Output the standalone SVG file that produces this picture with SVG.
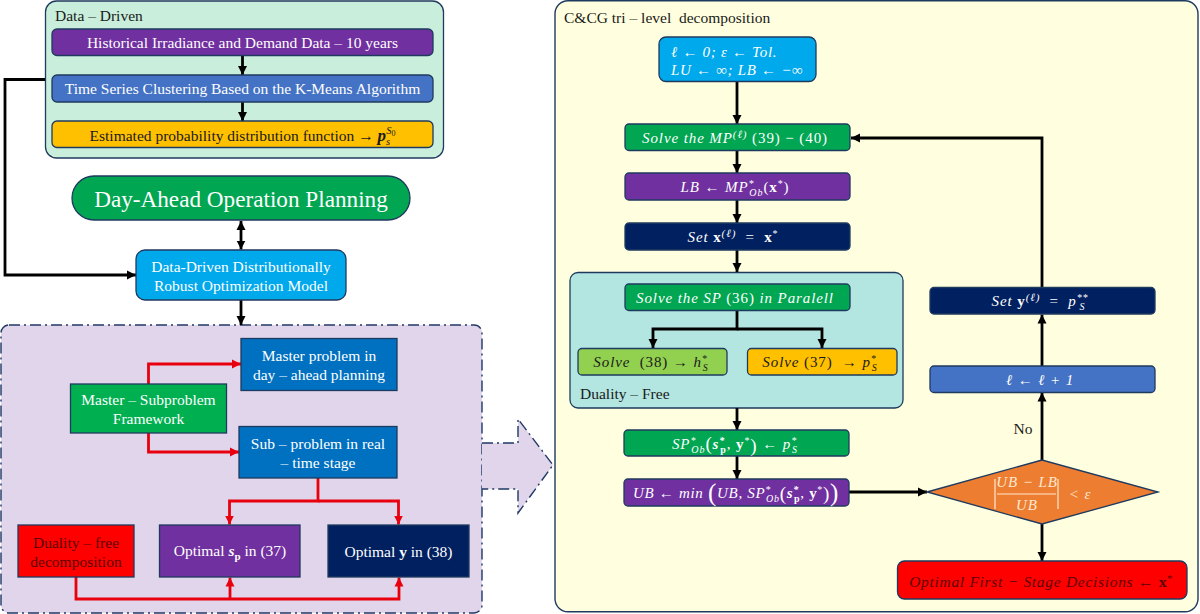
<svg xmlns="http://www.w3.org/2000/svg" width="1200" height="614" viewBox="0 0 1200 614">
<style>
text{font-family:"Liberation Serif","Times New Roman",serif;text-anchor:middle;fill:#fff;font-size:15.5px;white-space:pre}
.l{text-anchor:start;fill:#1a1a1a}
.dk{fill:#1a1a1a}
.drk{fill:#5a0000}
.m{font-style:italic;letter-spacing:.9px;font-size:15px}
.n{font-style:normal}
.b{font-style:normal;font-weight:bold}
.i{font-style:italic}
.bs{font-style:italic;font-weight:bold}
.box{stroke:#1f3a5f;stroke-width:1.3}
.c{fill:none;stroke:#000;stroke-width:2.8}
.r{fill:none;stroke:#e8000f;stroke-width:2.8}
</style>
<defs>
<marker id="ak" markerUnits="userSpaceOnUse" markerWidth="10" markerHeight="10" refX="9" refY="5" orient="auto-start-reverse"><path d="M0 .5L9 5L0 9.500z" fill="#000"/></marker>
<marker id="ar" markerUnits="userSpaceOnUse" markerWidth="10" markerHeight="10" refX="9" refY="5" orient="auto-start-reverse"><path d="M0 .5L9 5L0 9.500z" fill="#e8000f"/></marker>
</defs>
<rect width="1200" height="614" fill="#fff"/>

<g id="panel-data"><rect class="box" x="45.500" y="1" width="398" height="157" rx="11" fill="#c9eedb"/><text class="l" x="55" y="20.500">Data – Driven</text></g>
<g id="panel-framework"><rect x="1" y="325" width="481" height="288" rx="8" fill="#e0d5ea" stroke="#1f3864" stroke-width="1.4" stroke-dasharray="11 4 2 4"/></g>
<g id="panel-arrow"><path d="M482 443H518V419L553 465L518 513V489H482" fill="#e0d5ea"/><path d="M482 443H518V419L553 465L518 513V489H482" fill="none" stroke="#1f3864" stroke-width="1.4" stroke-dasharray="11 4 2 4"/></g>
<g id="panel-ccg"><rect x="555" y="0.700" width="643" height="611" rx="13" fill="#ffffdf" stroke="#1f3a5f" stroke-width="1.4"/><text class="l" x="564" y="23">C&amp;CG tri – level  decomposition</text></g>
<g id="panel-duality"><rect class="box" x="570" y="272.500" width="333" height="135.500" rx="8" fill="#b3e5e1"/><text class="l" x="580" y="399">Duality – Free</text></g>

<g id="connectors">
<path class="c" marker-end="url(#ak)" d="M242.500 56V75"/>
<path class="c" marker-end="url(#ak)" d="M242.500 102V121"/>
<path class="c" marker-start="url(#ak)" marker-end="url(#ak)" d="M241 221V249.500"/>
<path class="c" marker-end="url(#ak)" d="M45 79.500H5V275H136"/>
<path class="c" marker-end="url(#ak)" d="M241 300V325"/>
<path class="r" marker-end="url(#ar)" d="M148.500 384V364H241"/>
<path class="r" marker-end="url(#ar)" d="M148.500 433V452H239"/>
<path class="r" marker-end="url(#ar)" d="M318 478V501H229.500V524.500"/>
<path class="r" marker-end="url(#ar)" d="M318 501H398.500V524.500"/>
<path class="r" marker-end="url(#ar)" d="M76 577V599H399V577.500"/>
<path class="r" marker-end="url(#ar)" d="M230 599V577.500"/>
<path class="c" marker-end="url(#ak)" d="M737 81.500V124"/>
<path class="c" marker-end="url(#ak)" d="M737 151V173"/>
<path class="c" marker-end="url(#ak)" d="M737 200V223"/>
<path class="c" marker-end="url(#ak)" d="M737 250V272"/>
<path class="c" marker-end="url(#ak)" d="M737 310.500V329H653V348"/>
<path class="c" marker-end="url(#ak)" d="M737 329H822V348"/>
<path class="c" marker-end="url(#ak)" d="M737 408V430"/>
<path class="c" marker-end="url(#ak)" d="M737 456V479"/>
<path class="c" marker-end="url(#ak)" d="M849 492H927"/>
<path class="c" marker-end="url(#ak)" d="M1042 524V561"/>
<path class="c" marker-end="url(#ak)" d="M1042 460V392.500"/>
<path class="c" marker-end="url(#ak)" d="M1042 366V314.500"/>
<path class="c" marker-end="url(#ak)" d="M1042 287V138H851"/>
</g>

<g id="n-historical"><rect class="box" x="52" y="29" width="381" height="26.500" rx="5" fill="#7030a0"/><text x="242.500" y="48">Historical Irradiance and Demand Data – 10 years</text></g>
<g id="n-clustering"><rect class="box" x="52" y="75" width="381" height="27" rx="5" fill="#4472c4"/><text x="242.500" y="94">Time Series Clustering Based on the K-Means Algorithm</text></g>
<g id="n-pdf"><rect class="box" x="52" y="121" width="381" height="26.500" rx="5" fill="#ffc000"/><text class="dk" x="242.500" y="141">Estimated probability distribution function → <tspan class="bs" font-size="17">p</tspan><tspan class="i" font-size="10.500" dy="4">s</tspan><tspan class="i" font-size="10.500" dx="-4" dy="-11">S</tspan><tspan font-size="8" dy="2">0</tspan></text></g>
<g id="n-day-ahead"><rect class="box" x="72" y="176" width="338" height="44" rx="22" fill="#00a651"/><text x="241" y="207" style="font-size:23.2px">Day-Ahead Operation Planning</text></g>
<g id="n-dro"><rect class="box" x="136" y="250" width="210" height="50" rx="9" fill="#00a8ec"/><text x="241" y="272">Data-Driven Distributionally</text><text x="241" y="291">Robust Optimization Model</text></g>

<g id="n-master"><rect class="box" x="241" y="338.500" width="156" height="52" fill="#0070c0"/><text x="319" y="361">Master problem in</text><text x="319" y="380">day – ahead planning</text></g>
<g id="n-framework"><rect class="box" x="70.500" y="384" width="156" height="49" fill="#00b050"/><text x="148.500" y="405">Master – Subproblem</text><text x="148.500" y="424">Framework</text></g>
<g id="n-sub"><rect class="box" x="239" y="426.500" width="158" height="51.500" fill="#0070c0"/><text x="318" y="449">Sub – problem in real</text><text x="318" y="468">– time stage</text></g>
<g id="n-dualfree"><rect class="box" x="18" y="525" width="116" height="52" fill="#ff0000"/><text class="drk" x="76" y="548">Duality – free</text><text class="drk" x="76" y="567">decomposition</text></g>
<g id="n-opts"><rect class="box" x="159.500" y="525" width="140.500" height="52" fill="#7030a0"/><text x="230" y="556">Optimal <tspan class="bs">s</tspan><tspan class="b" font-size="11" dy="4">p</tspan><tspan dy="-4"> in (37)</tspan></text></g>
<g id="n-opty"><rect class="box" x="328" y="525" width="141" height="52" fill="#002060"/><text x="398.500" y="557">Optimal <tspan class="b">y</tspan> in (38)</text></g>

<g id="n-init"><rect class="box" x="659" y="37" width="157" height="44.500" rx="7" fill="#00a8ec"/><text class="m" x="671" y="56.500" style="text-anchor:start;letter-spacing:.7px">ℓ ← 0; ε ← Tol.</text><text class="m" x="671" y="74.500" style="text-anchor:start;letter-spacing:.7px">LU ← ∞; LB ← −∞</text></g>
<g id="n-solvemp"><rect class="box" x="625" y="124" width="225" height="26.500" rx="4" fill="#00a651"/><text class="m" x="735" y="143">Solve the MP<tspan font-size="11" dy="-5">(ℓ)</tspan><tspan class="n" dy="5"> (39) − (40)</tspan></text></g>
<g id="n-lb"><rect class="box" x="625" y="173" width="225" height="27" rx="4" fill="#7030a0"/><text class="m" x="735" y="192">LB ← MP<tspan font-size="10" dy="-5">*</tspan><tspan font-size="10" dx="-5" dy="9">Ob</tspan><tspan class="n" dy="-4">(</tspan><tspan class="b">x</tspan><tspan class="n" font-size="10" dy="-5">*</tspan><tspan class="n" dy="5">)</tspan></text></g>
<g id="n-setx"><rect class="box" x="625" y="223" width="225" height="27" rx="4" fill="#002060"/><text class="m" x="733" y="242">Set <tspan class="b">x</tspan><tspan font-size="11" dy="-5">(ℓ)</tspan><tspan class="n" dy="5">  =  </tspan><tspan class="b">x</tspan><tspan class="n" font-size="10" dy="-5">*</tspan></text></g>
<g id="n-solvesp"><rect class="box" x="625" y="284" width="225" height="26.500" rx="4" fill="#00a651"/><text class="m" x="735" y="303">Solve the SP <tspan class="n">(36)</tspan> in Paralell</text></g>
<g id="n-solve38"><rect class="box" x="578" y="348.500" width="149" height="26.500" rx="4" fill="#92d050"/><text class="m dk" x="651" y="367">Solve <tspan class="n"> (38) → </tspan>h<tspan font-size="10" dy="-5">*</tspan><tspan font-size="10" dx="-5" dy="9">S</tspan></text></g>
<g id="n-solve37"><rect class="box" x="747.500" y="348.500" width="149.500" height="26.500" rx="4" fill="#ffc000"/><text class="m dk" x="820" y="367">Solve <tspan class="n">(37)  → </tspan>p<tspan font-size="10" dy="-5">*</tspan><tspan font-size="10" dx="-5" dy="9">S</tspan></text></g>
<g id="n-spob"><rect class="box" x="624" y="430" width="225" height="26" rx="4" fill="#00a651"/><text class="m" x="735" y="449">SP<tspan font-size="10" dy="-5">*</tspan><tspan font-size="10" dx="-5" dy="9">Ob</tspan><tspan class="n" font-size="19" dy="-3">(</tspan><tspan class="bs" dy="-1">s</tspan><tspan class="bs" font-size="10" dy="-5">*</tspan><tspan class="b" font-size="10" dx="-5" dy="9">p</tspan><tspan class="n" dy="-4">, </tspan><tspan class="b">y</tspan><tspan class="n" font-size="10" dy="-5">*</tspan><tspan class="n" font-size="19" dy="8">)</tspan><tspan dy="-3"> ← p</tspan><tspan font-size="10" dy="-5">*</tspan><tspan font-size="10" dx="-5" dy="9">S</tspan></text></g>
<g id="n-ub"><rect class="box" x="624" y="479" width="225" height="27" rx="4" fill="#7030a0"/><text class="m" x="736" y="498" style="letter-spacing:.7px">UB ← min <tspan class="n" font-size="25" dy="3">(</tspan><tspan dy="-3">UB, SP</tspan><tspan font-size="10" dy="-5">*</tspan><tspan font-size="10" dx="-5" dy="9">Ob</tspan><tspan class="n" font-size="19" dy="-2">(</tspan><tspan class="bs" dy="-2">s</tspan><tspan class="bs" font-size="10" dy="-5">*</tspan><tspan class="b" font-size="10" dx="-5" dy="9">p</tspan><tspan class="n" dy="-4">, </tspan><tspan class="b">y</tspan><tspan class="n" font-size="10" dy="-5">*</tspan><tspan class="n" font-size="19" dy="7">)</tspan><tspan class="n" font-size="25" dy="1">)</tspan></text></g>
<g id="n-test"><path class="box" d="M927 492L1042 460L1158 492L1042 524z" fill="#ed7d31"/><path d="M995 479V509M1058 479V509M997 494H1056" stroke="#ffe9d0" stroke-width="1.200" fill="none"/><text class="m" x="1027" y="487" style="fill:#ffe9d0">UB − LB</text><text class="m" x="1027" y="510" style="fill:#ffe9d0">UB</text><text class="m" x="1080" y="499" style="fill:#ffe9d0">&lt; ε</text></g>
<g id="n-opt"><rect class="box" x="897.500" y="561" width="289.500" height="38" rx="7" fill="#ff0000"/><text class="m drk" x="1041" y="587" style="font-size:15.5px;letter-spacing:.7px">Optimal First − Stage Decisions ← <tspan class="b">x</tspan><tspan class="n" font-size="10" dy="-5">*</tspan></text></g>
<g id="n-inc"><rect class="box" x="930" y="366" width="225" height="26.500" rx="4" fill="#4472c4"/><text class="m" x="1040" y="385">ℓ ← ℓ + 1</text></g>
<g id="n-sety"><rect class="box" x="930" y="287.500" width="225" height="26.500" rx="4" fill="#002060"/><text class="m" x="1040" y="306">Set <tspan class="b">y</tspan><tspan font-size="11" dy="-5">(ℓ)</tspan><tspan class="n" dy="5">  =  </tspan>p<tspan font-size="10" dy="-5">**</tspan><tspan font-size="10" dx="-9" dy="9">S</tspan></text></g>
<text class="dk" x="1023" y="434">No</text>
</svg>
